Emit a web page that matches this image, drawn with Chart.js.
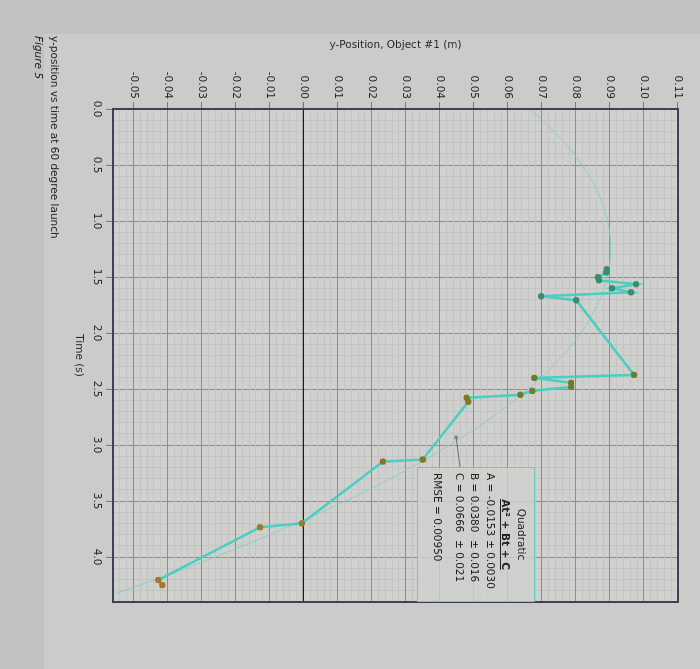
<!DOCTYPE html>
<html>
<head>
<meta charset="utf-8">
<script src="https://cdn.jsdelivr.net/npm/chart.js@4"></script>
<style>
  html, body { margin: 0; padding: 0; width: 700px; height: 669px; overflow: hidden; background: #c2c2c0; }
  /* the photo shows the graph turned a quarter turn clockwise */
  #rot { position: absolute; left: 0; top: 0; width: 669px; height: 700px;
         transform-origin: 0 0; transform: translate(700px, 0) rotate(90deg);
         font-family: "DejaVu Sans", sans-serif; color: #222; }
  #panel { position: absolute; left: 34px; top: 0; width: 635px; height: 656px; background: #cbcbc9; }
  #graph { position: absolute; left: 0; top: 0; }
  #fitbox { position: absolute; left: 467px; top: 165px; width: 135px; height: 118px; box-sizing: border-box;
            border: 1px solid #5fcfc4; background: rgba(208,208,206,0.8);
            font-size: 10.5px; line-height: 15.5px; padding: 5px 5px 0 5px; }
  #fitbox .c { text-align: center; }
  #fitbox .eq { font-weight: bold; text-decoration: underline; }
  #fitbox .k { display: inline-block; width: 67px; }
  #fitbox .rmse { margin-top: 6px; }
  .cap { position: absolute; left: 36px; font-size: 10.5px; white-space: nowrap; }
</style>
</head>
<body>
<div id="rot">
  <div id="panel"></div>
  <canvas id="graph" width="669" height="700"></canvas>
  <div id="fitbox">
    <div class="c">Quadratic</div>
    <div class="c eq">At² + Bt + C</div>
    <div><span class="k">A = -0.0153</span>± 0.0030</div>
    <div><span class="k">B = 0.0380</span>± 0.016</div>
    <div><span class="k">C = 0.0666</span>± 0.021</div>
    <div class="rmse">RMSE = 0.00950</div>
  </div>
  <div class="cap" style="top:639px;">y-position vs time at 60 degree launch</div>
  <div class="cap" style="top:655px;font-style:italic;">Figure 5</div>
</div>

<script>
// --- 측정 데이터 (사진에서 읽은 값) ---
const sampleTimes = [1.431, 1.458, 1.502, 1.529, 1.564, 1.600, 1.636, 1.671, 1.707,
                     2.373, 2.400, 2.444, 2.480, 2.516, 2.551, 2.578, 2.613,
                     3.129, 3.147, 3.698, 3.733, 4.204, 4.249];
const yPositions  = [0.0891, 0.0889, 0.0865, 0.0868, 0.0977, 0.0906, 0.0962, 0.0698, 0.0801,
                     0.0971, 0.0678, 0.0786, 0.0786, 0.0672, 0.0637, 0.0479, 0.0484,
                     0.0350, 0.0233, -0.0005, -0.0128, -0.0427, -0.0415];

// quadratic fit curve as drawn in the picture
const fitTimes  = [0, 0.25, 0.5, 0.75, 1.0, 1.25, 1.5, 1.75, 2.0, 2.25, 2.5, 2.75, 3.0, 3.25, 3.5, 3.75, 4.0, 4.25, 4.4];
const fitValues = [0.0666, 0.0751, 0.0818, 0.0865, 0.0893, 0.0902, 0.0892, 0.0862, 0.0814, 0.0746, 0.0660,
                   0.0554, 0.0429, 0.0285, 0.0122, -0.0061, -0.0262, -0.0483, -0.0624];

// grey marker where the fit box points
const markerTime = [2.93];
const markerValue = [0.0448];

// axes
const timeTickLabels = ['0.0', '0.5', '1.0', '1.5', '2.0', '2.5', '3.0', '3.5', '4.0'];
const posTickLabels = ['-0.05', '-0.04', '-0.03', '-0.02', '-0.01', '0.00', '0.01', '0.02',
                       '0.03', '0.04', '0.05', '0.06', '0.07', '0.08', '0.09', '0.10', '0.11'];
const timeMin = 0, timeMax = 4.4;
const posMin = -0.056, posMax = 0.11;

// 눈금 목록: 주 눈금 사이에 보조 눈금 5칸
function withMinor(labels, min, max) {
    const major = labels.map(Number);
    const step = (major[1] - major[0]) / 5;
    const vals = [];
    const start = Math.ceil(min / step - 1e-6);
    const end = Math.floor(max / step + 1e-6);
    for (let i = start; i <= end; i++) vals.push(+(i * step).toFixed(6));
    return vals;
}
function majorLabel(labels, v) {
    const hit = labels.find(l => Math.abs(Number(l) - v) < 1e-6);
    return hit === undefined ? '' : hit;
}

const tickFont = { family: 'DejaVu Sans', size: 10.5 };

const plotFrame = {
    id: 'plotFrame',
    beforeDraw(chart) {
        const { ctx, chartArea: a } = chart;
        ctx.save();
        ctx.fillStyle = '#d0d0ce';
        ctx.fillRect(a.left, a.top, a.right - a.left, a.bottom - a.top);
        ctx.restore();
    },
    afterDatasetsDraw(chart) {
        const { ctx, chartArea: a } = chart;
        // 맞춤 상자로 가는 연결선
        const pt = chart.getDatasetMeta(2).data[0];
        ctx.save();
        ctx.strokeStyle = '#707070';
        ctx.lineWidth = 1;
        ctx.beginPath();
        ctx.moveTo(pt.x, pt.y);
        ctx.lineTo(467, 240);
        ctx.stroke();
        // 테두리
        ctx.strokeStyle = '#3e4156';
        ctx.lineWidth = 2;
        ctx.strokeRect(a.left, a.top, a.right - a.left, a.bottom - a.top);
        ctx.restore();
    }
};

function pointColour(ctx) {
    const t = sampleTimes[ctx.dataIndex];
    if (t < 2.0) return '#3a8c6c';
    if (t < 2.56) return '#6c7c2e';
    if (t < 3.5) return '#8a7424';
    return '#a4782a';
}

new Chart(document.getElementById('graph'), {
    type: 'scatter',
    data: {
        datasets: [{
            label: 'y-Position',
            data: sampleTimes.map((t, i) => ({ x: t, y: yPositions[i] })),
            showLine: true,
            borderColor: '#48cfc0',
            borderWidth: 2.5,
            pointRadius: 3.2,
            pointBorderWidth: 0,
            pointBackgroundColor: pointColour,
            tension: 0
        }, {
            label: 'Quadratic',
            data: fitTimes.map((t, i) => ({ x: t, y: fitValues[i] })),
            showLine: true,
            borderColor: 'rgba(125,208,198,0.8)',
            borderWidth: 1,
            pointRadius: 0,
            tension: 0.4
        }, {
            label: 'marker',
            data: markerTime.map((t, i) => ({ x: t, y: markerValue[i] })),
            pointStyle: 'rect',
            pointRadius: 2.5,
            pointBorderWidth: 0,
            pointBackgroundColor: '#8c8c8c'
        }]
    },
    options: {
        responsive: false,
        animation: false,
        devicePixelRatio: 1,
        layout: { padding: { left: 39, top: 22, right: 67, bottom: 72.5 } },
        plugins: {
            legend: { display: false },
            tooltip: { enabled: false }
        },
        scales: {
            x: {
                type: 'linear',
                position: 'bottom',
                min: timeMin,
                max: timeMax,
                afterBuildTicks: s => { s.ticks = withMinor(timeTickLabels, timeMin, timeMax).map(v => ({ value: v })); },
                afterFit: s => { s.height = 40.5; },
                ticks: {
                    autoSkip: false, maxRotation: 0, padding: 3,
                    color: '#2a2a2a', font: tickFont,
                    callback: v => majorLabel(timeTickLabels, v)
                },
                grid: {
                    tickLength: 7,
                    color: c => majorLabel(timeTickLabels, c.tick.value) ? '#8e8e8e' : '#c4c4c2',
                    tickColor: c => majorLabel(timeTickLabels, c.tick.value) ? '#7a7a7a' : 'rgba(0,0,0,0)'
                },
                border: { display: false },
                title: { display: true, text: 'Time (s)', color: '#2a2a2a', font: tickFont, padding: 0 }
            },
            y: {
                type: 'linear',
                min: posMin,
                max: posMax,
                afterBuildTicks: s => { s.ticks = withMinor(posTickLabels, posMin, posMax).map(v => ({ value: v })); },
                afterFit: s => { s.width = 70; },
                ticks: {
                    autoSkip: false, padding: 3,
                    color: '#2a2a2a', font: tickFont,
                    callback: v => majorLabel(posTickLabels, v)
                },
                grid: {
                    tickLength: 7,
                    color: c => {
                        const v = c.tick.value;
                        if (Math.abs(v) < 1e-9) return '#1e1e1e';
                        return majorLabel(posTickLabels, v) ? '#8e8e8e' : '#c4c4c2';
                    },
                    lineWidth: c => Math.abs(c.tick.value) < 1e-9 ? 1.3 : 1,
                    tickColor: c => majorLabel(posTickLabels, c.tick.value) ? '#7a7a7a' : 'rgba(0,0,0,0)'
                },
                border: { display: false },
                title: { display: true, text: 'y-Position, Object #1 (m)', color: '#2a2a2a', font: tickFont, padding: 0 }
            }
        }
    },
    plugins: [plotFrame]
});
</script>
</body>
</html>
